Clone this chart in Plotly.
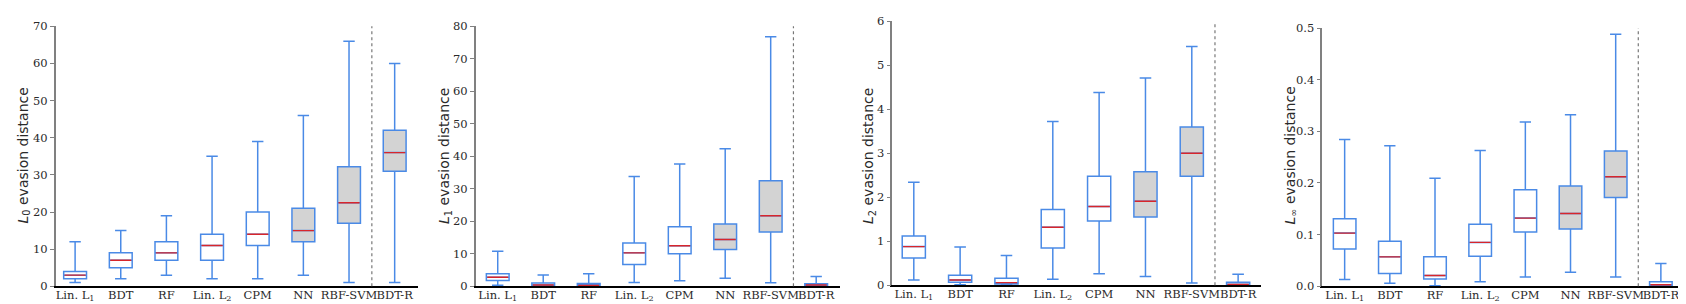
import plotly.graph_objects as go

W, H = 1686, 304

categories = ["Lin. L<sub>1</sub>", "BDT", "RF", "Lin. L<sub>2</sub>", "CPM", "NN", "RBF-SVM", "BDT-R"]
positions = [1, 2, 3, 4, 5, 6, 7, 8]

# L0 evasion distance
l0_low = [1, 2, 3, 2, 2, 3, 1, 1]
l0_q1 = [2, 5, 7, 7, 11, 12, 17, 31]
l0_med = [3, 7, 9, 11, 14, 15, 22.5, 36]
l0_q3 = [4, 9, 12, 14, 20, 21, 32.2, 42]
l0_high = [12, 15, 19, 35, 39, 46, 66, 60]

# L1 evasion distance
l1_low = [0.3, 0.0, 0.0, 1.2, 1.7, 2.5, 1.1, 0.0]
l1_q1 = [1.8, 0.1, 0.1, 6.7, 10.0, 11.3, 16.7, 0.1]
l1_med = [2.8, 0.4, 0.3, 10.3, 12.5, 14.4, 21.7, 0.4]
l1_q3 = [3.9, 1.0, 0.9, 13.3, 18.3, 19.2, 32.5, 0.8]
l1_high = [10.8, 3.5, 3.9, 33.8, 37.6, 42.3, 76.8, 3.0]

# L2 evasion distance
l2_low = [0.12, 0.01, 0.01, 0.14, 0.26, 0.20, 0.05, 0.0]
l2_q1 = [0.62, 0.07, 0.03, 0.85, 1.46, 1.55, 2.48, 0.0]
l2_med = [0.88, 0.12, 0.06, 1.32, 1.79, 1.91, 3.0, 0.02]
l2_q3 = [1.12, 0.23, 0.16, 1.72, 2.48, 2.58, 3.6, 0.07]
l2_high = [2.34, 0.87, 0.68, 3.72, 4.38, 4.71, 5.43, 0.25]

# L-infinity evasion distance
linf_low = [0.013, 0.006, 0.001, 0.009, 0.018, 0.027, 0.018, 0.0]
linf_q1 = [0.072, 0.025, 0.014, 0.058, 0.105, 0.111, 0.172, 0.0]
linf_med = [0.103, 0.057, 0.021, 0.085, 0.132, 0.141, 0.212, 0.003]
linf_q3 = [0.131, 0.087, 0.057, 0.12, 0.187, 0.194, 0.262, 0.009]
linf_high = [0.284, 0.272, 0.209, 0.263, 0.318, 0.332, 0.488, 0.044]

# which boxes are shaded gray
shaded_l0 = [False, False, False, False, False, True, True, True]
shaded_l1 = [False, False, False, False, False, True, True, False]
shaded_l2 = [False, False, False, False, False, True, True, False]
shaded_linf = [False, False, False, False, False, True, True, False]

y_labels = ["<i>L</i><sub>0</sub>", "<i>L</i><sub>1</sub>", "<i>L</i><sub>2</sub>", "<i>L</i><sub>∞</sub>"]
y_tick_vals = [
    [0, 10, 20, 30, 40, 50, 60, 70],
    [0, 10, 20, 30, 40, 50, 60, 70, 80],
    [0, 1, 2, 3, 4, 5, 6],
    [0.0, 0.1, 0.2, 0.3, 0.4, 0.5],
]
y_tick_fmt = ["d", "d", "d", ".1f"]

BLUE = "#4a8ae6"
RED = "#d8262b"
GRAY_FILL = "#d3d3d3"
BOX_W = 0.5

# layout geometry (pixels): x axis left/right, x range, y bottom/top pixel, label centre x
geom = [
    dict(xl=47.7, xr=409.5, rng=[0.575, 8.5], yb=278.3, yt=18.3, lx=15.5),
    dict(xl=467.7, xr=832.3, rng=[0.516, 8.53], yb=278.3, yt=18.3, lx=437.0),
    dict(xl=884.3, xr=1253.3, rng=[0.536, 8.5], yb=277.3, yt=13.3, lx=861.0),
    dict(xl=1314.3, xr=1675.0, rng=[0.505, 8.49], yb=278.3, yt=20.0, lx=1282.5),
]

panels = [
    (l0_low, l0_q1, l0_med, l0_q3, l0_high, shaded_l0),
    (l1_low, l1_q1, l1_med, l1_q3, l1_high, shaded_l1),
    (l2_low, l2_q1, l2_med, l2_q3, l2_high, shaded_l2),
    (linf_low, linf_q1, linf_med, linf_q3, linf_high, shaded_linf),
]

fig = go.Figure()
layout = dict(
    width=W, height=H, margin=dict(l=0, r=0, t=0, b=0, autoexpand=False),
    paper_bgcolor="white", plot_bgcolor="white", showlegend=False,
    shapes=[], annotations=[],
)

tick_font = dict(family="DejaVu Serif", size=11.5, color="#2a2a2a")

for i, (low, q1, med, q3, high, shaded) in enumerate(panels):
    g = geom[i]
    sfx = "" if i == 0 else str(i + 1)
    xa, ya = "x" + sfx, "y" + sfx
    for j, p in enumerate(positions):
        fig.add_trace(go.Box(
            x=[p], q1=[q1[j]], median=[med[j]], q3=[q3[j]],
            lowerfence=[low[j]], upperfence=[high[j]],
            width=BOX_W, whiskerwidth=0.5, orientation="v",
            fillcolor=GRAY_FILL if shaded[j] else "white",
            line=dict(color=BLUE, width=1.5),
            boxpoints=False, hoverinfo="skip",
            xaxis=xa, yaxis=ya,
        ))
    mx, my = [], []
    for j, p in enumerate(positions):
        mx += [p - BOX_W / 2 + 0.02, p + BOX_W / 2 - 0.02, None]
        my += [med[j], med[j], None]
    fig.add_trace(go.Scatter(x=mx, y=my, mode="lines",
                             line=dict(color=RED, width=1.4),
                             hoverinfo="skip", xaxis=xa, yaxis=ya))

    yv = y_tick_vals[i]
    layout["xaxis" + sfx] = dict(
        domain=[g["xl"] / W, g["xr"] / W], range=g["rng"], anchor=ya,
        tickmode="array", tickvals=positions, ticktext=categories,
        tickangle=0, automargin=False, ticklabelstandoff=-3,
        showline=True, linecolor="black", linewidth=1.5,
        ticks="", showgrid=False, zeroline=False, tickfont=tick_font,
    )
    layout["yaxis" + sfx] = dict(
        domain=[1 - g["yb"] / H, 1 - g["yt"] / H], range=[yv[0], yv[-1]],
        anchor=xa, tickmode="array", tickvals=yv, tickformat=y_tick_fmt[i],
        automargin=False,
        showline=True, linecolor="#808080", linewidth=1.5,
        ticks="outside", ticklen=4, tickcolor="#808080", tickwidth=1,
        showgrid=False, zeroline=False, tickfont=tick_font,
    )
    sep = (positions[-2] + positions[-1]) / 2
    layout["shapes"].append(dict(
        type="line", xref=xa, yref=ya + " domain", x0=sep, x1=sep, y0=0, y1=1,
        line=dict(color="#777777", width=1.2, dash="dot"),
    ))
    layout["annotations"].append(dict(
        text=y_labels[i] + " evasion distance", textangle=-90,
        xref="paper", yref="paper", x=g["lx"] / W, y=1 - 148 / H,
        xanchor="center", yanchor="middle", showarrow=False,
        font=dict(family="DejaVu Sans", size=14, color="#2a2a2a"),
    ))

fig.update_layout(**layout)
fig.write_html("out.html")
